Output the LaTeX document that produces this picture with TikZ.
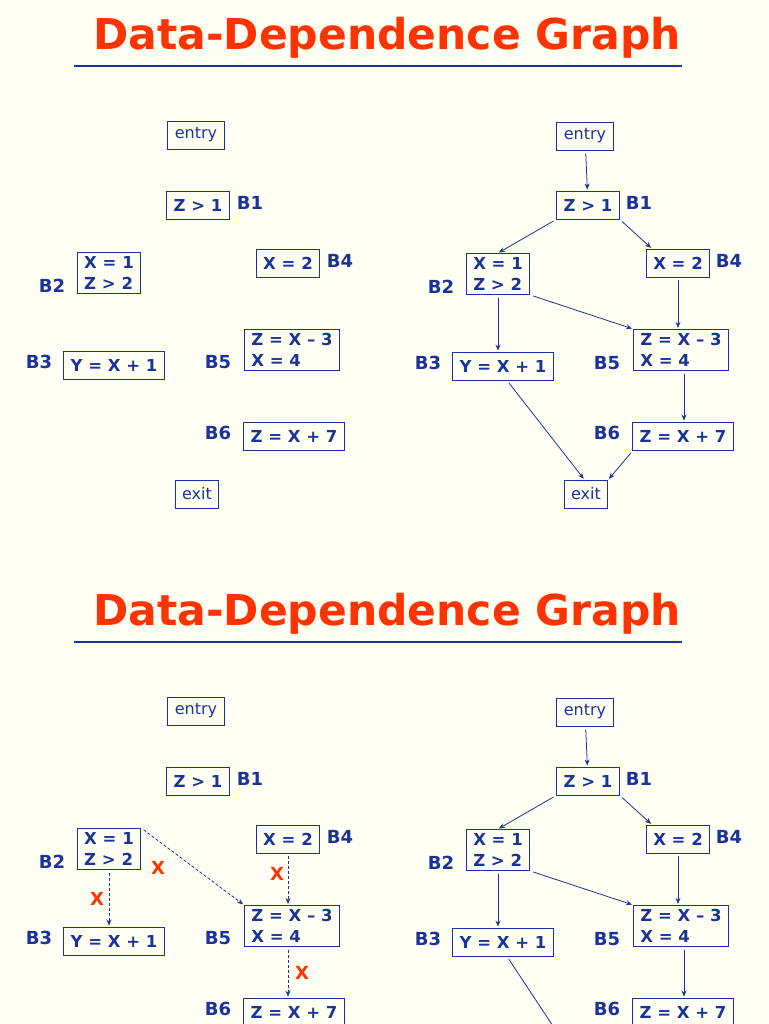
\documentclass[tikz,border=0pt]{standalone}
\usepackage{fontspec}
\setmainfont{DejaVu Sans}
\usetikzlibrary{arrows.meta}
\definecolor{bg}{HTML}{FFFFF4}
\definecolor{blu}{HTML}{1A3399}
\definecolor{red}{HTML}{FF3300}
\tikzset{
 bb/.style={draw=blu,line width=0.9pt,text=blu,font=\fontsize{16.5}{21}\selectfont\bfseries,align=left,minimum height=28pt,inner xsep=7pt,inner ysep=4pt},
 tb/.style={draw=blu,line width=0.9pt,text=blu,font=\fontsize{16}{18}\selectfont,minimum height=28pt,inner xsep=7pt},
 lb/.style={text=blu,font=\fontsize{18}{20}\selectfont\bfseries},
 xl/.style={text=red,font=\fontsize{18}{20}\selectfont\bfseries},
 ttl/.style={text=red,font=\fontsize{42.5}{46}\selectfont\bfseries},
 ar/.style={draw=blu,line width=0.8pt,-{Stealth[length=6pt,width=5pt]},shorten <=3pt,shorten >=1pt},
 da/.style={ar,dashed,dash pattern=on 3pt off 2pt},
}
\begin{document}
\begin{tikzpicture}[x=1pt,y=-1pt]
\useasboundingbox[fill=bg] (0,0) rectangle (768,1024);
\foreach \s/\k in {0/a,576/b}{
\begin{scope}[yshift=-\s pt]
\node[ttl] (title\k) at (387,38) {Data-Dependence Graph};
\coordinate (ul\k) at (74,66); \coordinate (ur\k) at (682,66);
\draw[blu,line width=2.5pt] (ul\k) -- (ur\k);
% left graph
\node[tb] (Le\k) at (196,135) {entry};
\node[bb] (L1\k) at (198,205) {Z > 1};
\node[bb] (L2\k) at (109,273) {X = 1\\Z > 2};
\node[bb] (L4\k) at (288,263) {X = 2};
\node[bb] (L5\k) at (292,350) {Z = X – 3\\X = 4};
\node[bb] (L3\k) at (114,365) {Y = X + 1};
\node[bb] (L6\k) at (294,436) {Z = X + 7};
\node[lb] (lL1\k) at (250,203) {B1};
\node[lb] (lL2\k) at (52,286) {B2};
\node[lb] (lL4\k) at (340,261) {B4};
\node[lb] (lL5\k) at (218,362) {B5};
\node[lb] (lL3\k) at (39,362) {B3};
\node[lb] (lL6\k) at (218,433) {B6};
% right graph
\node[tb] (Re\k) at (585,136) {entry};
\node[bb] (R1\k) at (588,205) {Z > 1};
\node[bb] (R2\k) at (498,274) {X = 1\\Z > 2};
\node[bb] (R4\k) at (678,263) {X = 2};
\node[bb] (R5\k) at (681,350) {Z = X – 3\\X = 4};
\node[bb] (R3\k) at (503,366) {Y = X + 1};
\node[bb] (R6\k) at (683,436) {Z = X + 7};
\node[lb] (lR1\k) at (639,203) {B1};
\node[lb] (lR2\k) at (441,287) {B2};
\node[lb] (lR4\k) at (729,261) {B4};
\node[lb] (lR5\k) at (607,363) {B5};
\node[lb] (lR3\k) at (428,363) {B3};
\node[lb] (lR6\k) at (607,433) {B6};
\draw[ar] (Re\k) -- (R1\k);
\draw[ar] (R1\k.south west) -- (R2\k.north);
\draw[ar] (R1\k.south east) -- ([xshift=6pt]R4\k.north west);
\draw[ar] (R2\k.south) -- (R3\k.north -| R2\k.south);
\draw[ar] (R2\k.south east) -- (R5\k.north west);
\draw[ar] (R4\k.south) -- (R5\k.north -| R4\k.south);
\draw[ar] ([xshift=3pt]R5\k.south) -- ([xshift=3pt]R6\k.north -| R5\k.south);
\end{scope}}
\node[tb] (Lxa) at (197,494) {exit};
\node[tb] (Rxa) at (586,494) {exit};
\coordinate (Rxb) at (586,1070);
\draw[ar] ([xshift=4pt]R3a.south) -- ([xshift=-24pt]Rxa.north east);
\draw[ar] ([xshift=-50pt]R6a.south) -- (Rxa.north east);
\draw[ar] ([xshift=4pt]R3b.south) -- ([xshift=-4pt]Rxb);
\draw[ar] ([xshift=-50pt]R6b.south) -- ([xshift=20pt]Rxb);
% dashed dependences on second slide
\draw[da] (L2b.south) -- (L3b.north -| L2b.south);
\draw[da] (L2b.north east) -- (L5b.north west);
\draw[da] (L4b.south) -- (L5b.north -| L4b.south);
\draw[da] (L5b.south -| L4b.south) -- (L6b.north -| L4b.south);
\node[xl] (x1) at (158,868) {X};
\node[xl] (x2) at (97,899) {X};
\node[xl] (x3) at (277,874) {X};
\node[xl] (x4) at (302,973) {X};
\end{tikzpicture}
\end{document}
